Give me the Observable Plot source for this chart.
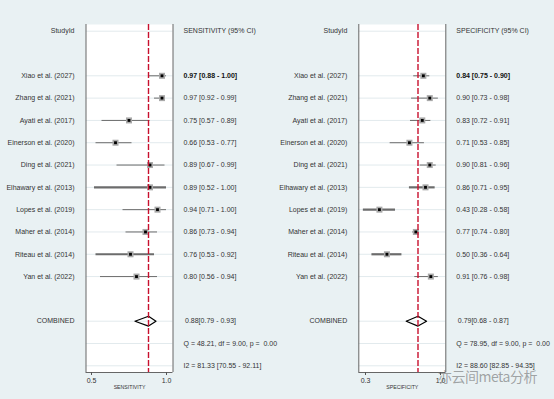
<!DOCTYPE html>
<html>
<head>
<meta charset="utf-8">
<script src="https://cdn.jsdelivr.net/npm/d3@7"></script>
<script src="https://cdn.jsdelivr.net/npm/@observablehq/plot@0.6"></script>
<style>
  html, body { margin: 0; padding: 0; background: #e9f1f3; }
  #wrap { position: relative; width: 554px; height: 399px; overflow: hidden; font-family: "Liberation Sans", Arial, sans-serif; }
  #wrap svg { position: absolute; top: 0; background: transparent; }
  #wm { position: absolute; left: 438px; top: 366px; font-size: 14px; color: rgba(95,95,95,0.55); font-family: "Noto Sans CJK SC", sans-serif; letter-spacing: -0.5px; }
</style>
</head>
<body>
<div id="wrap"><div id="wm">亦云间meta分析</div></div>
<script>
// ---------- data ----------
const studies = ["Xiao et al. (2027)", "Zhang et al. (2021)", "Ayati et al. (2017)", "Einerson et al. (2020)",
  "Ding et al. (2021)", "Elhawary et al. (2013)", "Lopes et al. (2019)", "Maher et al. (2014)",
  "Riteau et al. (2014)", "Yan et al. (2022)"];
const sens   = [0.97, 0.97, 0.75, 0.66, 0.89, 0.89, 0.94, 0.86, 0.76, 0.80];
const sensLo = [0.88, 0.92, 0.57, 0.53, 0.67, 0.52, 0.71, 0.73, 0.53, 0.56];
const sensHi = [1.00, 0.99, 0.89, 0.77, 0.99, 1.00, 1.00, 0.94, 0.92, 0.94];
const spec   = [0.84, 0.90, 0.83, 0.71, 0.90, 0.86, 0.43, 0.77, 0.50, 0.91];
const specLo = [0.75, 0.73, 0.72, 0.53, 0.81, 0.71, 0.28, 0.74, 0.36, 0.76];
const specHi = [0.90, 0.98, 0.91, 0.85, 0.96, 0.95, 0.58, 0.80, 0.64, 0.98];
const sensPooled = [0.88, 0.79, 0.93];   // est, lo, hi
const specPooled = [0.79, 0.68, 0.87];
const sensHet = {Q: "48.21", df: "9.00", p: "0.00", I2: "81.33", I2lo: "70.55", I2hi: "92.11"};
const specHet = {Q: "78.95", df: "9.00", p: "0.00", I2: "88.60", I2lo: "82.85", I2hi: "94.35"};
const sensTicks = [0.5, 1.0];
const specTicks = [0.3, 1.0];

// ---------- drawing ----------
const fmt = d3.format(".2f");
const FONT = "'Liberation Sans', Arial, sans-serif";
const TXT = "#333333";

function panel(o) {
  const rows = studies.map((s, i) => ({study: s, row: i + 2, est: o.est[i], lo: o.lo[i], hi: o.hi[i],
    txt: `${fmt(o.est[i])} [${fmt(o.lo[i])} - ${fmt(o.hi[i])}]`}));
  const [pe, pl, ph] = o.pooled;
  const cRow = 13;
  const diamond = [
    {x: pl, y: cRow}, {x: pe, y: cRow - 0.22}, {x: ph, y: cRow}, {x: pe, y: cRow + 0.22}, {x: pl, y: cRow}
  ];
  const yDom = [-0.3, 15.3];
  const gridRows = [0, ...rows.map(d => d.row), 13, 14, 15];
  const thick = new Set(o.thick);
  const sideNormal = [
    {row: 0, t: o.header},
    ...rows.slice(1).map(d => ({row: d.row, t: d.txt})),
    {row: 14, t: `Q = ${o.het.Q}, df = ${o.het.df}, p =\u00a0\u00a0${o.het.p}`},
    {row: 15, t: `I2 = ${o.het.I2} [${o.het.I2lo} - ${o.het.I2hi}]`}
  ];
  const sideBold = [{row: rows[0].row, t: rows[0].txt}];
  const sideComb = [{row: cRow, t: `${fmt(pe)}[${fmt(pl)} - ${fmt(ph)}]`}];
  const leftText = [{row: 0, t: "StudyId"}, ...rows.map(d => ({row: d.row, t: d.study})), {row: cRow, t: "COMBINED"}];
  const thin = rows.filter(d => !thick.has(d.study));
  const fat = rows.filter(d => thick.has(d.study));

  return Plot.plot({
    width: 277, height: 399,
    marginLeft: o.ml, marginRight: 277 - o.ml - 87, marginTop: 24, marginBottom: 27,
    x: {domain: o.xDom, ticks: o.ticks},
    y: {domain: yDom, reverse: true, axis: null},
    style: {fontFamily: FONT, fontSize: "7px", background: "transparent", color: TXT, overflow: "visible"},
    marks: [
      Plot.frame({fill: "white", stroke: null}),
      Plot.ruleY(gridRows, {stroke: "#e2eaed", strokeWidth: 1}),
      Plot.ruleY(thin, {y: "row", x1: "lo", x2: "hi", stroke: "#6c6c6c", strokeWidth: 1}),
      Plot.ruleY(fat, {y: "row", x1: "lo", x2: "hi", stroke: "#6c6c6c", strokeWidth: 2.2}),
      Plot.dot(rows, {x: "est", y: "row", symbol: "square", r: 3.4, fill: "#a9a9a9", stroke: null}),
      Plot.dot(rows, {x: "est", y: "row", symbol: "square", r: 1.6, fill: "black", stroke: null}),
      Plot.line(diamond, {x: "x", y: "y", stroke: "black", strokeWidth: 1.2}),
      Plot.ruleX([pe], {stroke: "#c8102e", strokeWidth: 1.4, strokeDasharray: "6,2"}),
      Plot.ruleX(o.xDom, {stroke: "#666", strokeWidth: 1}),
      Plot.ruleY([yDom[1]], {stroke: "#666", strokeWidth: 1}),
      Plot.axisX({ticks: o.ticks, tickSize: 3, tickPadding: 3, tickFormat: d3.format(".1f"),
        fontSize: 7, label: null, stroke: "#555", fill: TXT}),
      Plot.text([o.label], {frameAnchor: "bottom", dy: 16, fontSize: 5.2, fill: TXT}),
      Plot.text(leftText, {y: "row", text: "t", frameAnchor: "left", dx: -11.5, textAnchor: "end", fontSize: 7, fill: TXT}),
      Plot.text(sideNormal, {y: "row", text: "t", frameAnchor: "right", dx: 10.5, textAnchor: "start", fontSize: 7, fill: TXT}),
      Plot.text(sideBold, {y: "row", text: "t", frameAnchor: "right", dx: 10.5, textAnchor: "start", fontSize: 7, fill: "#111", fontWeight: "bold"}),
      Plot.text(sideComb, {y: "row", text: "t", frameAnchor: "right", dx: 12, textAnchor: "start", fontSize: 7, fill: TXT})
    ]
  });
}

const wrap = document.getElementById("wrap");
const left = panel({
  est: sens, lo: sensLo, hi: sensHi, pooled: sensPooled, het: sensHet,
  ml: 85.5, xDom: [0.5 - 5.5 / 150, 1.0 + 6.5 / 150], ticks: sensTicks,
  label: "SENSITIVITY", header: "SENSITIVITY (95% CI)",
  thick: ["Elhawary et al. (2013)", "Riteau et al. (2014)"]
});
left.style.left = "0px";
const right = panel({
  est: spec, lo: specLo, hi: specHi, pooled: specPooled, het: specHet,
  ml: 81.3, xDom: [0.3 - 6.7 / 107.1, 1.0 + 5.3 / 107.1], ticks: specTicks,
  label: "SPECIFICITY", header: "SPECIFICITY (95% CI)",
  thick: ["Elhawary et al. (2013)", "Lopes et al. (2019)", "Riteau et al. (2014)"]
});
right.style.left = "277px";
wrap.insertBefore(right, wrap.firstChild);
wrap.insertBefore(left, wrap.firstChild);
</script>
</body>
</html>
